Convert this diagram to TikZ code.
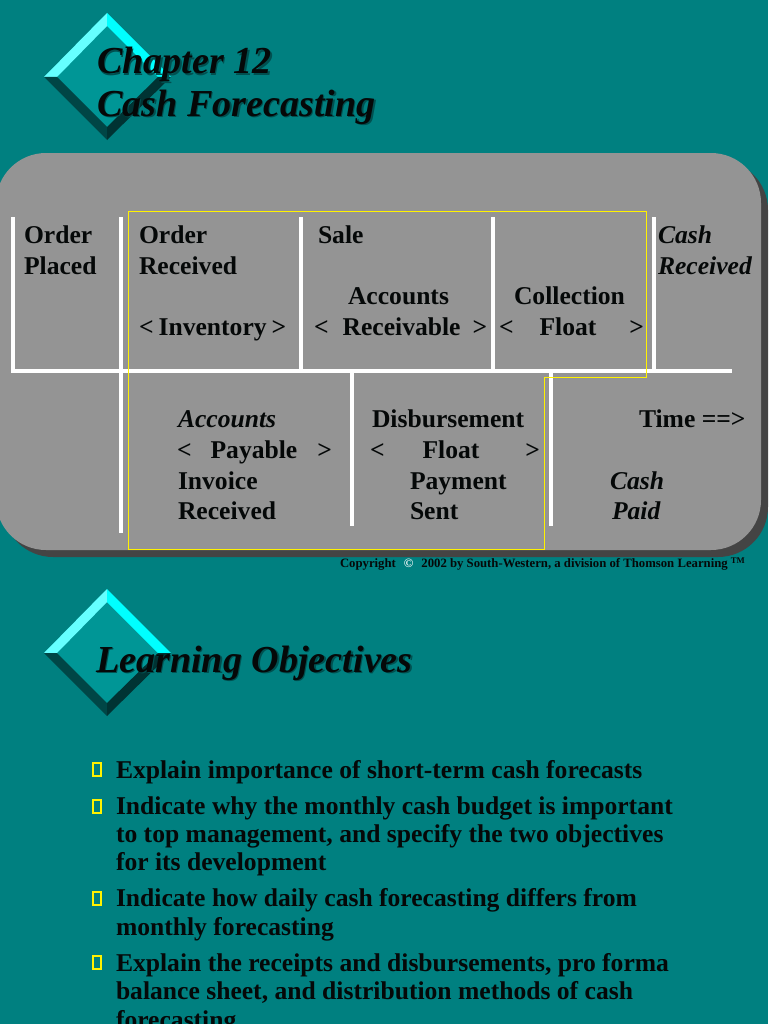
\documentclass[tikz,border=0pt]{standalone}
\usepackage{fontspec}
\setmainfont{Liberation Serif}
\newdimen\px \px=0.75pt
\definecolor{bgteal}{RGB}{0,128,128}
\definecolor{panel}{RGB}{148,148,148}
\definecolor{panelshadow}{RGB}{68,68,68}
\definecolor{face}{RGB}{0,150,150}
\definecolor{bevelTL}{RGB}{102,255,255}
\definecolor{bevelTR}{RGB}{0,255,255}
\definecolor{bevelBL}{RGB}{0,70,70}
\definecolor{bevelBR}{RGB}{0,51,51}
\definecolor{txt}{RGB}{5,8,8}
\definecolor{ttlshadow}{RGB}{0,80,80}
\tikzset{
  x=0.75pt,y=-0.75pt,
  wline/.style={white,line width=3pt},
  yline/.style={yellow,line width=0.7pt,line join=miter},
  lab/.style={anchor=base west,inner sep=0pt,outer sep=0pt,text=txt,font=\fontsize{19.2}{23}\bfseries},
  labi/.style={lab,font=\fontsize{19.2}{23}\bfseries\itshape},
  body/.style={lab,font=\fontsize{19.2}{23}\bfseries},
  ttl/.style={lab,font=\fontsize{28.6}{32}\bfseries\itshape},
  ttlsh/.style={ttl,text=ttlshadow},
  copy/.style={lab,font=\fontsize{9.55}{11}\bfseries},
  bul/.style={draw=yellow,line width=1.1pt,fill=bgteal},
}
\newcommand{\gem}[2]{%
 \begin{scope}[shift={(#1,#2)}]
  \fill[face] (0,-64) -- (64,0) -- (0,63) -- (-63,0) -- cycle;
  \fill[bevelTL] (0,-64) -- (0,-51) -- (-50,0) -- (-63,0) -- cycle;
  \fill[bevelTR] (0,-64) -- (64,0) -- (51,0) -- (0,-51) -- cycle;
  \fill[bevelBL] (-63,0) -- (-50,0) -- (0,50) -- (0,63) -- cycle;
  \fill[bevelBR] (0,63) -- (0,50) -- (51,0) -- (64,0) -- cycle;
 \end{scope}}
\begin{document}
\begin{tikzpicture}
\useasboundingbox (0,0) rectangle (768,1024);
\clip (0,0) rectangle (768,1024);
\fill[bgteal] (0,0) rectangle (768,1024);
\gem{107}{77}
\gem{107}{653}
\node[ttlsh] (t1s) at (98.5,75.5) {Chapter 12};
\node[ttlsh] (t2s) at (98.5,117.5) {Cash Forecasting};
\node[ttl] (t1) at (97,74) {Chapter 12};
\node[ttl] (t2) at (97,116) {Cash Forecasting};
% panel
\fill[panelshadow,rounded corners=37.5pt] (3,160) rectangle (768,557);
\fill[panel,rounded corners=37.5pt] (-4,153) rectangle (761,550);
% white lines
\draw[wline] (13,217) -- (13,371);
\draw[wline] (121,217) -- (121,533);
\draw[wline] (301,217) -- (301,371);
\draw[wline] (493,217) -- (493,371);
\draw[wline] (654,217) -- (654,371);
\draw[wline] (11,371) -- (732,371);
\draw[wline] (352,371) -- (352,526);
\draw[wline] (551,371) -- (551,526);
\draw[yline] (128,211) -- (646,211) -- (646,377) -- (544,377) -- (544,549) -- (128,549) -- cycle;
% upper labels
\node[lab] (a1) at (24,243) {Order};
\node[lab] (a2) at (24,274) {Placed};
\node[lab] (b1) at (139,243) {Order};
\node[lab] (b2) at (139,274) {Received};
\node[lab] (b3) at (139,335) {<\kern 5\px Inventory\kern 5\px>};
\node[lab] (c1) at (318,243) {Sale};
\node[lab] (c2) at (348,304) {Accounts};
\node[lab] (c3) at (314,335) {<\kern 14\px Receivable\kern 12\px>};
\node[lab] (d1) at (514,304) {Collection};
\node[lab] (d2) at (499,335) {<\kern 26\px Float\kern 33\px>};
\node[labi] (e1) at (658,243) {Cash};
\node[labi] (e2) at (658,274) {Received};
% lower labels
\node[labi] (f1) at (178,427) {Accounts};
\node[lab] (f2) at (177,458) {<\kern 19\px Payable\kern 20\px>};
\node[lab] (f3) at (178,489) {Invoice};
\node[lab] (f4) at (178,519) {Received};
\node[lab] (g1) at (372,427) {Disbursement};
\node[lab] (g2) at (370,458) {<\kern 38\px Float\kern 46\px>};
\node[lab] (g3) at (410,489) {Payment};
\node[lab] (g4) at (410,519) {Sent};
\node[lab] (h1) at (639,427) {Time ==>};
\node[labi] (h2) at (610,489) {Cash};
\node[labi] (h3) at (612,519) {Paid};
\node[copy] (cp) at (340,567) {Copyright\kern 8\px\textcolor{white}{©}\kern 8\px 2002 by South-Western, a division of Thomson Learning \raisebox{3pt}{\fontsize{6.5}{7}\selectfont TM}};
% objectives
\node[ttlsh] (t3s) at (97.5,673.5) {Learning Objectives};
\node[ttl] (t3) at (96,672) {Learning Objectives};
\draw[bul] (93,763) rectangle (101,776);
\draw[bul] (93,800) rectangle (101,813);
\draw[bul] (93,892) rectangle (101,905);
\draw[bul] (93,956) rectangle (101,969);
\node[body] (o1) at (116,778) {Explain importance of short-term cash forecasts};
\node[body] (o2) at (116,814) {Indicate why the monthly cash budget is important};
\node[body] (o3) at (116,842) {to top management, and specify the two objectives};
\node[body] (o4) at (116,870) {for its development};
\node[body] (o5) at (116,906) {Indicate how daily cash forecasting differs from};
\node[body] (o6) at (116,935) {monthly forecasting};
\node[body] (o7) at (116,971) {Explain the receipts and disbursements, pro forma};
\node[body] (o8) at (116,999) {balance sheet, and distribution methods of cash};
\node[body] (o9) at (116,1028) {forecasting};
\end{tikzpicture}
\end{document}
